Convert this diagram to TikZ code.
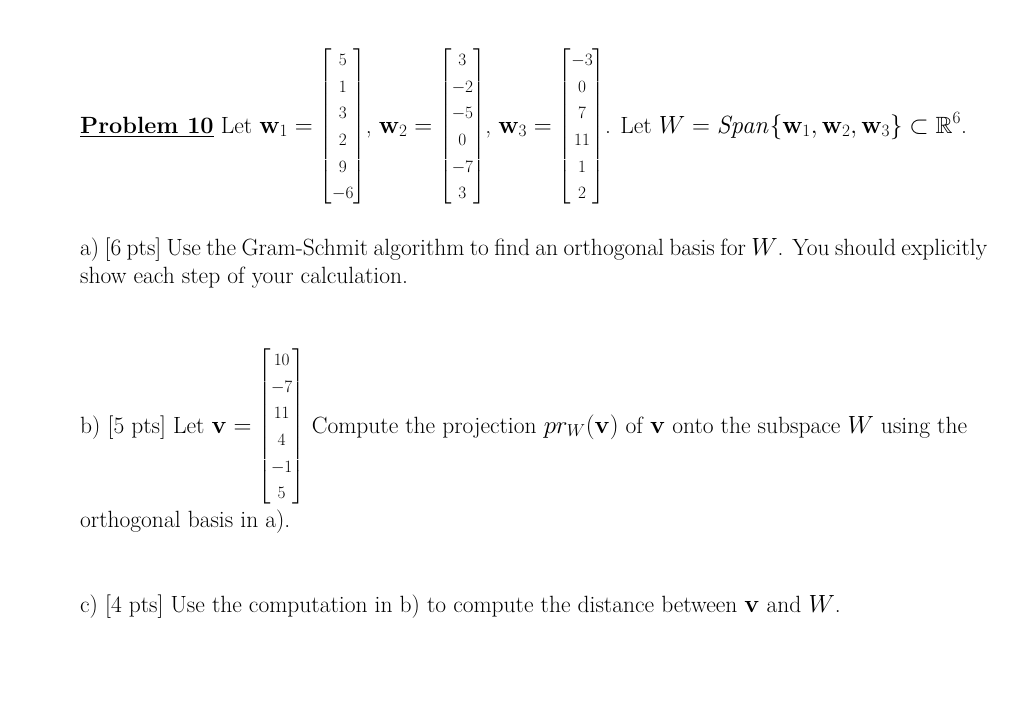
\documentclass[tikz,border=0pt]{standalone}
\usepackage{amsmath,amssymb}
\newcommand{\mx}[1]{{\fontsize{18.5}{20}\selectfont\renewcommand{\arraystretch}{1.33}\setlength{\arraycolsep}{3pt}$\begin{bmatrix}#1\end{bmatrix}$}}
\begin{document}
\begin{tikzpicture}[x=1pt,y=-1pt,txt/.style={anchor=base west,inner sep=0pt,font=\fontsize{23.5}{27.5}\selectfont}]
\useasboundingbox (0,0) rectangle (1028,704);
\node[txt] (l1) at (80,133) {\underline{\textbf{Problem 10}} Let $\mathbf{w}_1=$ $\vcenter{\hbox{\mx{5\\1\\3\\2\\9\\-6}}}$, $\mathbf{w}_2=$ $\vcenter{\hbox{\mx{3\\-2\\-5\\0\\-7\\3}}}$, $\mathbf{w}_3=$ $\vcenter{\hbox{\mx{-3\\0\\7\\11\\1\\2}}}$. Let $W=\mathit{Span}\{\mathbf{w}_1,\mathbf{w}_2,\mathbf{w}_3\}\subset\mathbb{R}^6$.};
\node[txt,anchor=north west,text width=907pt,align=justify] (a) at (80,238) {a) [6 pts] Use the Gram-Schmit algorithm to find an orthogonal basis for $W$. You should explicitly show each step of your calculation.};
\node[txt] (b) at (80,433) {b) [5 pts] Let $\mathbf{v}=$ $\vcenter{\hbox{\mx{10\\-7\\11\\4\\-1\\5}}}$ Compute the projection $pr_W(\mathbf{v})$ of $\mathbf{v}$ onto the subspace $W$ using the};
\node[txt] (b2) at (80,527) {orthogonal basis in a).};
\node[txt] (c) at (80,612) {c) [4 pts] Use the computation in b) to compute the distance between $\mathbf{v}$ and $W$.};
\end{tikzpicture}
\end{document}
